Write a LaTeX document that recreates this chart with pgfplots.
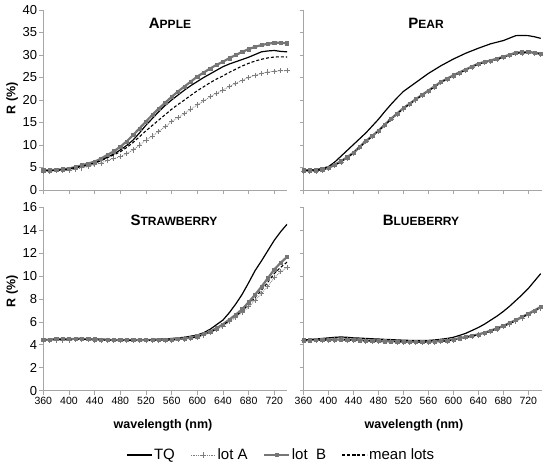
\documentclass[border=0pt]{standalone}
\usepackage{fontspec}
\setmainfont{Liberation Sans}
\usepackage{pgfplots}
\usepackage{pgfplotstable}
\pgfplotsset{compat=1.18}
\definecolor{gA}{RGB}{125,125,125}
\definecolor{gB}{RGB}{118,118,118}

\pgfplotstableread{
L TQ A B M
360 4.3 4.2 4.4 4.3
370 4.3 4.2 4.4 4.3
380 4.4 4.3 4.5 4.4
390 4.5 4.3 4.6 4.45
400 4.7 4.4 4.8 4.6
410 5.0 4.6 5.1 4.85
420 5.3 4.9 5.5 5.2
430 5.6 5.2 5.9 5.55
440 6.0 5.6 6.3 5.95
450 6.6 6.0 7.0 6.5
460 7.3 6.6 7.8 7.2
470 8.0 7.0 8.6 7.8
480 8.9 7.4 9.6 8.5
490 9.9 8.1 10.8 9.45
500 11.1 8.9 12.2 10.55
510 12.7 10.0 13.7 11.85
520 14.4 11.1 15.2 13.15
530 15.9 12.0 16.7 14.35
540 17.4 13.0 18.1 15.55
550 18.8 14.1 19.4 16.75
560 20.0 15.2 20.7 17.95
570 21.1 16.1 21.9 19.0
580 22.2 17.0 23.0 20.0
590 23.2 18.0 24.1 21.05
600 24.1 18.9 25.2 22.05
610 25.0 19.8 26.1 22.95
620 25.8 20.7 27.0 23.85
630 26.6 21.5 27.8 24.65
640 27.4 22.2 28.5 25.35
650 28.0 23.0 29.3 26.15
660 28.5 23.7 30.0 26.85
670 29.0 24.4 30.7 27.55
680 29.5 25.0 31.3 28.15
690 30.1 25.5 31.8 28.65
700 30.7 25.9 32.2 29.05
710 30.9 26.2 32.5 29.35
720 31.0 26.4 32.7 29.55
730 30.8 26.5 32.7 29.6
740 30.7 26.5 32.6 29.55
}\apple

\pgfplotstableread{
L TQ A B M
360 4.3 4.2 4.4 4.3
370 4.4 4.2 4.4 4.3
380 4.5 4.2 4.4 4.3
390 4.8 4.4 4.6 4.5
400 5.2 4.75 4.95 4.85
410 6.2 5.4 5.6 5.5
420 7.5 6.2 6.4 6.3
430 8.8 7.1 7.3 7.2
440 10.1 8.1 8.3 8.2
450 11.4 9.4 9.6 9.5
460 12.7 10.7 10.9 10.8
470 14.2 11.8 12.0 11.9
480 15.7 13.0 13.2 13.1
490 17.4 14.3 14.5 14.4
500 19.0 15.6 15.8 15.7
510 20.5 16.8 17.0 16.9
520 21.9 18.0 18.2 18.1
530 22.9 19.0 19.2 19.1
540 23.9 20.0 20.2 20.1
550 24.9 20.95 21.15 21.05
560 25.9 21.9 22.1 22.0
570 26.75 22.85 23.05 22.95
580 27.6 23.8 24.0 23.9
590 28.35 24.55 24.75 24.65
600 29.1 25.3 25.5 25.4
610 29.75 25.95 26.15 26.05
620 30.4 26.6 26.8 26.7
630 30.95 27.25 27.45 27.35
640 31.5 27.9 28.1 28.0
650 32.0 28.25 28.45 28.35
660 32.5 28.6 28.8 28.7
670 32.85 29.0 29.2 29.1
680 33.2 29.4 29.6 29.5
690 33.75 29.85 30.05 29.95
700 34.3 30.3 30.5 30.4
710 34.35 30.4 30.6 30.5
720 34.3 30.5 30.7 30.6
730 34.05 30.3 30.5 30.4
740 33.7 30.1 30.3 30.2
}\pear

\pgfplotstableread{
L TQ A B M
360 4.45 4.4 4.45 4.42
370 4.45 4.4 4.45 4.42
380 4.5 4.4 4.5 4.45
390 4.5 4.42 4.5 4.46
400 4.5 4.42 4.5 4.46
410 4.55 4.45 4.52 4.48
420 4.55 4.45 4.52 4.48
430 4.5 4.43 4.5 4.46
440 4.5 4.42 4.48 4.45
450 4.5 4.4 4.45 4.42
460 4.45 4.38 4.43 4.4
470 4.45 4.37 4.42 4.4
480 4.45 4.36 4.42 4.39
490 4.45 4.36 4.42 4.39
500 4.45 4.36 4.42 4.39
510 4.45 4.36 4.42 4.39
520 4.45 4.36 4.42 4.39
530 4.45 4.37 4.42 4.4
540 4.5 4.38 4.43 4.4
550 4.5 4.39 4.44 4.42
560 4.55 4.4 4.45 4.42
570 4.6 4.45 4.5 4.47
580 4.65 4.5 4.55 4.52
590 4.75 4.58 4.62 4.6
600 4.85 4.65 4.75 4.7
610 5.05 4.83 4.93 4.88
620 5.35 5.05 5.15 5.1
630 5.75 5.31 5.45 5.38
640 6.15 5.62 5.78 5.7
650 6.8 6.0 6.2 6.1
660 7.55 6.38 6.62 6.5
670 8.4 6.8 7.1 6.95
680 9.4 7.3 7.7 7.5
690 10.45 7.85 8.35 8.1
700 11.3 8.45 9.05 8.75
710 12.2 9.1 9.8 9.45
720 13.1 9.85 10.55 10.2
730 13.85 10.35 11.15 10.75
740 14.5 10.75 11.65 11.2
}\straw

\pgfplotstableread{
L TQ A B M
360 4.43 4.35 4.39 4.37
370 4.45 4.36 4.4 4.38
380 4.5 4.38 4.42 4.4
390 4.55 4.39 4.43 4.41
400 4.6 4.4 4.44 4.42
410 4.65 4.42 4.46 4.44
420 4.68 4.43 4.47 4.45
430 4.65 4.41 4.45 4.43
440 4.6 4.38 4.42 4.4
450 4.58 4.36 4.4 4.38
460 4.55 4.33 4.37 4.35
470 4.52 4.31 4.35 4.33
480 4.5 4.28 4.32 4.3
490 4.47 4.27 4.31 4.29
500 4.45 4.26 4.3 4.28
510 4.42 4.25 4.29 4.27
520 4.4 4.23 4.27 4.25
530 4.38 4.22 4.26 4.24
540 4.37 4.21 4.25 4.23
550 4.37 4.22 4.26 4.24
560 4.38 4.23 4.27 4.25
570 4.42 4.25 4.29 4.27
580 4.48 4.28 4.32 4.3
590 4.55 4.33 4.37 4.35
600 4.65 4.4 4.44 4.42
610 4.82 4.52 4.58 4.55
620 5.0 4.62 4.68 4.65
630 5.25 4.72 4.78 4.75
640 5.5 4.85 4.91 4.88
650 5.8 4.99 5.05 5.02
660 6.15 5.16 5.24 5.2
670 6.5 5.36 5.44 5.4
680 6.9 5.56 5.64 5.6
690 7.35 5.8 5.9 5.85
700 7.85 6.05 6.15 6.1
710 8.35 6.33 6.43 6.38
720 8.9 6.6 6.7 6.65
730 9.55 6.9 7.0 6.95
740 10.2 7.2 7.3 7.25
}\blue

\pgfplotsset{
  panel/.style={
    scale only axis,
    axis lines*=left,
    tick align=outside,
    major tick length=4pt,
    xmin=360,
    xtick={360,400,...,720},
    axis line style={color=gray!70, line width=0.8pt},
    tick style={color=gray!70, line width=0.6pt},
    /pgf/number format/assume math mode=true,
    xticklabel style={font=\fontsize{10.5}{12}\selectfont, inner sep=2pt},
    yticklabel style={font=\fontsize{13}{14}\selectfont, inner sep=2pt},
    xlabel style={font=\fontsize{12.5}{14}\selectfont\bfseries},
    ylabel style={font=\fontsize{12.5}{14}\selectfont\bfseries},
    legend image code/.code={\draw[mark repeat=2,mark phase=2,##1] plot coordinates {(0pt,0pt) (12.5pt,0pt) (25pt,0pt)};},
  },
  left/.style={panel, width=243.8pt, xmax=740},
  right/.style={panel, width=238.5pt, xmax=742, yticklabels={}},
  top/.style={height=180pt, ymin=0, ymax=40, ytick={0,5,...,40}, xticklabels={}},
  bot/.style={height=183.7pt, ymin=0, ymax=16, ytick={0,2,...,16}},
  tq/.style={black, line width=1.2pt, no marks, line join=round},
  lotA/.style={gA, densely dotted, line width=0.8pt, mark=+, mark size=2.6pt, mark options={solid, line width=0.9pt}},
  lotB/.style={gB, line width=2.2pt, mark=square*, mark size=1.6pt, mark options={solid, line width=0.4pt}},
  mean/.style={black, line width=1.1pt, dash pattern=on 3pt off 2pt, no marks},
}

\begin{document}
\begin{tikzpicture}
\useasboundingbox (0pt,0pt) rectangle (550pt,466pt);

% Apple
\begin{axis}[left, top, at={(43.3pt,276pt)}, anchor=south west,
  ylabel={R (\%)}, ylabel style={at={(axis description cs:-0.128,0.51)}, anchor=center}]
\addplot[lotA] table[x=L,y=A]{\apple};
\addplot[lotB] table[x=L,y=B]{\apple};
\addplot[tq] table[x=L,y=TQ]{\apple};
\addplot[mean] table[x=L,y=M]{\apple};
\end{axis}

% Pear
\begin{axis}[right, top, at={(303.5pt,276pt)}, anchor=south west]
\addplot[lotA] table[x=L,y=A]{\pear};
\addplot[lotB] table[x=L,y=B]{\pear};
\addplot[mean] table[x=L,y=M]{\pear};
\addplot[tq] table[x=L,y=TQ]{\pear};
\end{axis}

% Strawberry
\begin{axis}[left, bot, at={(43.3pt,75.3pt)}, anchor=south west,
  ylabel={R (\%)}, ylabel style={at={(axis description cs:-0.128,0.54)}, anchor=center},
  xlabel={wavelength (nm)}, xlabel style={at={(axis description cs:0.491,-0.189)}, anchor=center},
  legend columns=4,
  legend style={draw=none, fill=none, at={(0.975,-0.35)}, anchor=center,
    font=\fontsize{15}{16}\selectfont, inner sep=0pt,
    /tikz/every even column/.append style={column sep=14pt},
    nodes={inner sep=1.5pt}}]
\addplot[tq] table[x=L,y=TQ]{\straw};
\addlegendentry{TQ}
\addplot[lotA] table[x=L,y=A]{\straw};
\addlegendentry{lot A}
\addplot[lotB] table[x=L,y=B]{\straw};
\addlegendentry{lot\ \ B}
\addplot[mean] table[x=L,y=M]{\straw};
\addlegendentry{mean lots}
\end{axis}

% Blueberry
\begin{axis}[right, bot, at={(303.5pt,75.3pt)}, anchor=south west,
  xlabel={wavelength (nm)}, xlabel style={at={(axis description cs:0.463,-0.189)}, anchor=center}]
\addplot[lotA] table[x=L,y=A]{\blue};
\addplot[lotB] table[x=L,y=B]{\blue};
\addplot[mean] table[x=L,y=M]{\blue};
\addplot[tq] table[x=L,y=TQ]{\blue};
\end{axis}

\node[font=\bfseries] at (170pt,443pt) {{\fontsize{15}{16}\selectfont A}{\fontsize{12}{13}\selectfont PPLE}};
\node[font=\bfseries] at (426pt,443pt) {{\fontsize{15}{16}\selectfont P}{\fontsize{12}{13}\selectfont EAR}};
\node[font=\bfseries] at (174pt,246pt) {{\fontsize{15}{16}\selectfont S}{\fontsize{12}{13}\selectfont TRAWBERRY}};
\node[font=\bfseries] at (421pt,246pt) {{\fontsize{15}{16}\selectfont B}{\fontsize{12}{13}\selectfont LUEBERRY}};
\end{tikzpicture}
\end{document}
